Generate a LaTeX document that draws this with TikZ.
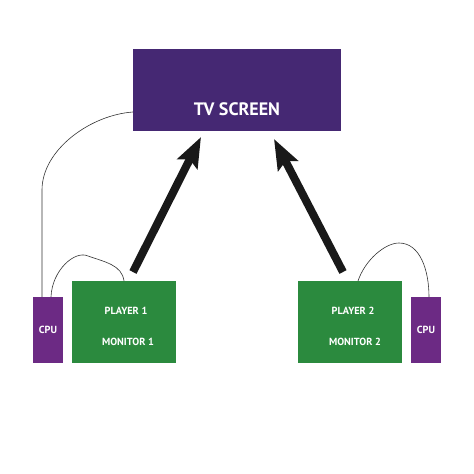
\documentclass[tikz,border=0pt]{standalone}
\usepackage{fontspec}
\setmainfont{PT Sans}
\usetikzlibrary{arrows.meta}
\definecolor{tvpurple}{HTML}{452873}
\definecolor{cpupurple}{HTML}{6C2A84}
\definecolor{mongreen}{HTML}{2B8A3E}
\tikzset{
  box/.style={draw=none, inner sep=0pt, outer sep=0pt},
  lbl/.style={text=white, font=\bfseries\fontsize{10.3}{12}\selectfont, inner sep=0pt},
  wire/.style={draw=black!80, line width=0.6pt},
  bigarrow/.style={line width=8pt, draw=black!90, -{Stealth[length=30pt,width=22pt,inset=5pt]}}
}
\begin{document}
\begin{tikzpicture}[x=1pt,y=-1pt]
\useasboundingbox[fill=white] (0,0) rectangle (474,474);
% boxes
\node[box, fill=tvpurple, minimum width=208pt, minimum height=82pt, anchor=north west] (tv) at (133,49) {};
\node[box, fill=cpupurple, minimum width=30pt, minimum height=66pt, anchor=north west] (cpu1) at (33,297) {};
\node[box, fill=mongreen, minimum width=104pt, minimum height=82pt, anchor=north west] (mon1) at (72,281) {};
\node[box, fill=mongreen, minimum width=104pt, minimum height=82pt, anchor=north west] (mon2) at (298,281) {};
\node[box, fill=cpupurple, minimum width=30pt, minimum height=66pt, anchor=north west] (cpu2) at (411,297) {};
% labels
\node[lbl, font=\bfseries\fontsize{18}{20}\selectfont] (tvl) at (237,109) {TV SCREEN};
\node[lbl] (cpu1l) at (48,330) {CPU};
\node[lbl] (p1) at (126,311) {PLAYER 1};
\node[lbl] (m1) at (128,342) {MONITOR 1};
\node[lbl] (p2) at (353,311) {PLAYER 2};
\node[lbl] (m2) at (355,342) {MONITOR 2};
\node[lbl] (cpu2l) at (426,330) {CPU};
% arrow endpoints
\coordinate (a1s) at (133,272);
\coordinate (a1e) at (201,137);
\coordinate (a2s) at (343,272);
\coordinate (a2e) at (274,139);
\draw[bigarrow] (a1s) -- (a1e);
\draw[bigarrow] (a2s) -- (a2e);
% wires
\coordinate (w1a) at (133,112);
\coordinate (w1b) at (42,297);
\draw[wire] (w1a) .. controls (90,115) and (42,150) .. (42,190) -- (w1b);
\coordinate (w2a) at (51,297);
\coordinate (w2b) at (124,281);
\draw[wire] (w2a) .. controls (52,270) and (75,250) .. (88,256) .. controls (105,262) and (122,265) .. (w2b);
\coordinate (w3a) at (358,281);
\coordinate (w3b) at (429,297);
\draw[wire] (w3a) .. controls (365,260) and (385,243) .. (399,243) .. controls (420,243) and (429,270) .. (w3b);
\end{tikzpicture}
\end{document}
